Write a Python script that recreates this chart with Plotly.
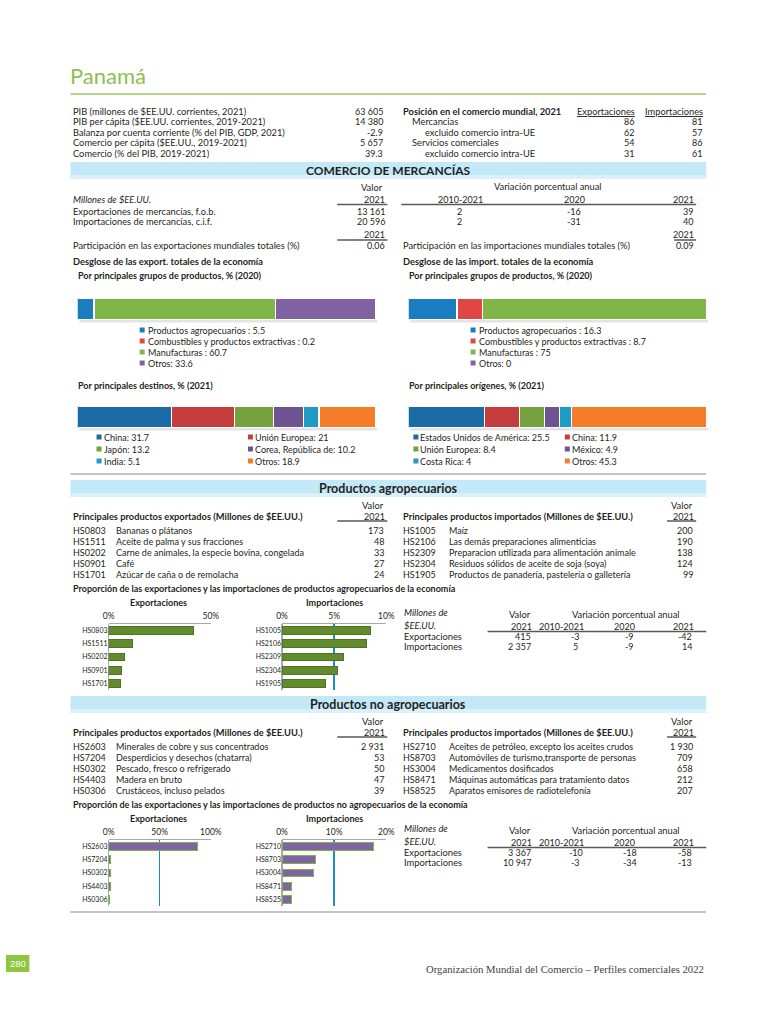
import plotly.graph_objects as go

W, H = 768, 1024
FONT = "Lato, Liberation Sans, sans-serif"
TXT = "#231F20"

# ---------------- data ----------------
country = "Panamá"
basic_labels = ["PIB (millones de $EE.UU. corrientes, 2021)",
                "PIB per cápita ($EE.UU. corrientes, 2019-2021)",
                "Balanza por cuenta corriente (% del PIB, GDP, 2021)",
                "Comercio per cápita ($EE.UU., 2019-2021)",
                "Comercio (% del PIB, 2019-2021)"]
basic_values = ["63 605", "14 380", "-2.9", "5 657", "39.3"]
rank_labels = ["Mercancias", "excluido comercio intra-UE", "Servicios comerciales", "excluido comercio intra-UE"]
rank_indent = [0, 1, 0, 1]
rank_exports = [86, 62, 54, 31]
rank_imports = [81, 57, 86, 61]

merch_rows = ["Exportaciones de mercancías, f.o.b.", "Importaciones de mercancías, c.i.f."]
merch_value = ["13 161", "20 596"]
merch_g_2010_2021 = [2, 2]
merch_g_2020 = [-16, -31]
merch_g_2021 = [39, 40]
world_share_exp = "0.06"
world_share_imp = "0.09"

group_labels = ["Productos agropecuarios", "Combustibles y productos extractivas", "Manufacturas", "Otros"]
group_seps = [" : ", " : ", " : ", ": "]
exp_group_vals = [5.5, 0.2, 60.7, 33.6]
imp_group_vals = [16.3, 8.7, 75, 0]
group_colors = ["#1A7DC0", "#E04646", "#7FB646", "#8062A3"]

dest_labels = ["China", "Unión Europea", "Japón", "Corea, República de", "India", "Otros"]
dest_vals = [31.7, 21, 13.2, 10.2, 5.1, 18.9]
orig_labels = ["Estados Unidos de América", "China", "Unión Europea", "México", "Costa Rica", "Otros"]
orig_vals = [25.5, 11.9, 8.4, 4.9, 4, 45.3]
partner_colors = ["#1B6CA6", "#C53C3C", "#77A03E", "#6E5491", "#1D9BC2", "#F57D2A"]

agri_exp_codes = ["HS0803", "HS1511", "HS0202", "HS0901", "HS1701"]
agri_exp_desc = ["Bananas o plátanos", "Aceite de palma y sus fracciones",
                 "Carne de animales, la especie bovina, congelada", "Café",
                 "Azúcar de caña o de remolacha"]
agri_exp_vals = ["173", "48", "33", "27", "24"]
agri_exp_share = [41.7, 11.6, 8.0, 6.5, 5.8]
agri_imp_codes = ["HS1005", "HS2106", "HS2309", "HS2304", "HS1905"]
agri_imp_desc = ["Maíz", "Las demás preparaciones alimenticias",
                 "Preparacion utilizada para alimentación animale",
                 "Residuos sólidos de aceite de soja (soya)",
                 "Productos de panadería, pastelería o galletería"]
agri_imp_vals = ["200", "190", "138", "124", "99"]
agri_imp_share = [8.5, 8.1, 5.9, 5.3, 4.2]
agri_summary_exp = ["415", "-3", "-9", "-42"]
agri_summary_imp = ["2 357", "5", "-9", "14"]

nagri_exp_codes = ["HS2603", "HS7204", "HS0302", "HS4403", "HS0306"]
nagri_exp_desc = ["Minerales de cobre y sus concentrados", "Desperdicios y desechos (chatarra)",
                  "Pescado, fresco o refrigerado", "Madera en bruto", "Crustáceos, incluso pelados"]
nagri_exp_vals = ["2 931", "53", "50", "47", "39"]
nagri_exp_share = [87.1, 1.6, 1.5, 1.4, 1.2]
nagri_imp_codes = ["HS2710", "HS8703", "HS3004", "HS8471", "HS8525"]
nagri_imp_desc = ["Aceites de petróleo, excepto los aceites crudos",
                  "Automóviles de turismo,transporte de personas",
                  "Medicamentos dosificados",
                  "Máquinas automáticas para tratamiento datos",
                  "Aparatos emisores de radiotelefonía"]
nagri_imp_vals = ["1 930", "709", "658", "212", "207"]
nagri_imp_share = [17.6, 6.5, 6.0, 1.9, 1.9]
nagri_summary_exp = ["3 367", "-10", "-18", "-58"]
nagri_summary_imp = ["10 947", "-3", "-34", "-13"]

# ---------------- helpers (page pixel -> paper fraction) ----------------
anns, shapes = [], []
L, R = 72, 706      # page content edges
SX, OX = 1.0254, -7.9   # horizontal calibration of page position


def X(x):
    return max(0.0, (SX * x + OX) / W)


def Y(y):
    return 1 - y / H


def t(x, y, s, size=9.3, anchor="left", bold=False, italic=False, color=TXT, family=FONT):
    if bold:
        s = f"<b>{s}</b>"
    if italic:
        s = f"<i>{s}</i>"
    anns.append(dict(x=X(x), y=Y(y), xref="paper", yref="paper", text=s, showarrow=False,
                     xanchor=anchor, yanchor="middle", borderpad=0,
                     font=dict(size=size, color=color, family=family)))


def hline(x0, x1, y, color="#595959", width=1.5):
    shapes.append(dict(type="line", xref="paper", yref="paper", x0=X(x0), x1=X(x1),
                       y0=Y(y), y1=Y(y), line=dict(color=color, width=width)))


def rect(x0, y0, x1, y1, fill, layer="below"):
    shapes.append(dict(type="rect", xref="paper", yref="paper", x0=X(x0), x1=X(x1),
                       y0=Y(y1), y1=Y(y0), fillcolor=fill, line=dict(width=0), layer=layer))


def band(y0, y1, label, size=12.5):
    rect(L, y0, R, y1, "#C3E8F8")
    rect(L, y1 - 4, R, y1, "#D9F1FB")
    t((L + R) / 2, (y0 + y1) / 2, label, size=size, anchor="center", bold=True)


fig = go.Figure()
axis_n = [0]
layout_axes = {}


def new_axes(x0, x1, y0, y1):
    axis_n[0] += 1
    n = axis_n[0]
    xa = "xaxis" if n == 1 else f"xaxis{n}"
    ya = "yaxis" if n == 1 else f"yaxis{n}"
    xr = "x" if n == 1 else f"x{n}"
    yr = "y" if n == 1 else f"y{n}"
    layout_axes[xa] = dict(domain=[X(x0), X(x1)], anchor=yr)
    layout_axes[ya] = dict(domain=[Y(y1), Y(y0)], anchor=xr)
    return xa, ya, xr, yr


# ---------------- header ----------------
t(71, 75, country, size=22, color="#8DC052")
hline(L, R, 94, color="#9BCB5C", width=1.5)

rows_y = [111, 121.5, 132, 142.5, 153]
for i, (lab, val) in enumerate(zip(basic_labels, basic_values)):
    t(74, rows_y[i], lab)
    t(385, rows_y[i], val, anchor="right", size=9)
t(403, rows_y[0], "Posición en el comercio mundial, 2021", bold=True)
t(636, rows_y[0], "<u>Exportaciones</u>", anchor="right")
t(704, rows_y[0], "<u>Importaciones</u>", anchor="right")
for i, lab in enumerate(rank_labels):
    y = rows_y[i + 1]
    t(412 + 13 * rank_indent[i], y, lab)
    t(635, y, str(rank_exports[i]), anchor="right", size=9)
    t(703, y, str(rank_imports[i]), anchor="right", size=9)

# ---------------- comercio de mercancías ----------------
band(162, 179, "COMERCIO DE MERCANCÍAS", size=12)
t(385, 187, "Valor", anchor="right")
t(548, 186, "Variación porcentual anual", anchor="center")
t(74, 199, "Millones de $EE.UU.", italic=True)
t(387, 199, "2021", anchor="right", size=9)
t(461, 199, "2010-2021", anchor="center", size=9)
t(575, 199, "2020", anchor="center", size=9)
t(695, 199, "2021", anchor="right", size=9)
hline(338, 388, 204.5)
hline(402, 696, 204.5)
for i, lab in enumerate(merch_rows):
    y = [211, 221.5][i]
    t(74, y, lab)
    t(387, y, merch_value[i], anchor="right", size=9)
    t(460, y, str(merch_g_2010_2021[i]), anchor="center", size=9)
    t(574, y, str(merch_g_2020[i]), anchor="center", size=9)
    t(694, y, str(merch_g_2021[i]), anchor="right", size=9)
t(387, 234.5, "2021", anchor="right", size=9)
t(695, 234.5, "2021", anchor="right", size=9)
hline(338, 388, 240)
hline(674, 696, 240)
t(74, 245.5, "Participación en las exportaciones mundiales totales (%)")
t(387, 245.5, world_share_exp, anchor="right", size=9)
t(403, 245.5, "Participación en las importaciones mundiales totales (%)")
t(695, 245.5, world_share_imp, anchor="right", size=9)
t(74, 261, "Desglose de las export. totales de la economía", bold=True)
t(403, 261, "Desglose de las import. totales de la economía", bold=True)
t(79, 275, "Por principales grupos de productos, % (2020)", bold=True, size=9)
t(409, 275, "Por principales grupos de productos, % (2020)", bold=True, size=9)


def stacked(x0, x1, y0, y1, vals, colors):
    xa, ya, xr, yr = new_axes(x0, x1, y0, y1)
    total = sum(vals)
    layout_axes[xa].update(range=[0, total], visible=False, fixedrange=True)
    layout_axes[ya].update(range=[-0.5, 0.5], visible=False, fixedrange=True)
    for v, c in zip(vals, colors):
        fig.add_trace(go.Bar(x=[v], y=[0], orientation="h", xaxis=xr, yaxis=yr, width=1,
                             marker=dict(color=c, line=dict(color="white", width=1.2)),
                             showlegend=False, hoverinfo="skip"))
    rect(x0 + 2, y1, x1 + 2, y1 + 2.5, "#E3E3E3")


stacked(79, 376, 298, 320, exp_group_vals, group_colors)
stacked(409, 706, 298, 320, imp_group_vals, group_colors)


def legend_sq(x, y, color):
    rect(x, y - 2.5, x + 5, y + 2.5, color, layer="above")


for i, lab in enumerate(group_labels):
    y = 330 + 11 * i
    legend_sq(141, y, group_colors[i])
    t(148, y, f"{lab}{group_seps[i]}{exp_group_vals[i]:g}", size=9)
    legend_sq(471, y, group_colors[i])
    t(478, y, f"{lab}{group_seps[i]}{imp_group_vals[i]:g}", size=9)

t(79, 385, "Por principales destinos, % (2021)", bold=True, size=9)
t(409, 385, "Por principales orígenes, % (2021)", bold=True, size=9)
stacked(79, 376, 406, 428, dest_vals, partner_colors)
stacked(409, 706, 406, 428, orig_vals, partner_colors)
for i in range(6):
    row, col = i // 2, i % 2
    y = 437 + 12 * row
    lx = [98, 249][col]
    legend_sq(lx, y, partner_colors[i])
    t(lx + 6, y, f"{dest_labels[i]}: {dest_vals[i]:g}", size=9)
    rx = [414, 565][col]
    legend_sq(rx, y, partner_colors[i])
    t(rx + 6, y, f"{orig_labels[i]}: {orig_vals[i]:g}", size=9)

hline(L, R, 474, color="#C4C4C4", width=2)


# ---------------- product sections ----------------
def product_section(top, title, exp_codes, exp_desc, exp_vals, imp_codes, imp_desc, imp_vals,
                    prop_title, exp_share, imp_share, exp_max, exp_ticks, imp_max, imp_ticks,
                    bar_fill, bar_line, sum_exp, sum_imp):
    band(top, top + 17, title, size=12.5)
    y_val, y_hdr = top + 25.5, top + 36
    t(386, y_val, "Valor", anchor="right")
    t(387, y_hdr, "2021", anchor="right", size=9)
    t(694, y_val, "Valor", anchor="right")
    t(695, y_hdr, "2021", anchor="right", size=9)
    hline(338, 388, y_hdr + 5)
    hline(667, 696, y_hdr + 5)
    t(74, y_hdr, "Principales productos exportados (Millones de $EE.UU.)", bold=True)
    t(403, y_hdr, "Principales productos importados (Millones de $EE.UU.)", bold=True)
    for i in range(5):
        y = top + 50 + 11 * i
        t(74, y, exp_codes[i], size=9)
        t(116, y, exp_desc[i], size=9)
        t(386, y, exp_vals[i], anchor="right", size=9)
        t(403, y, imp_codes[i], size=9)
        t(449, y, imp_desc[i], size=9)
        t(694, y, imp_vals[i], anchor="right", size=9)
    t(74, top + 108, prop_title, bold=True, size=9)

    cy0 = top + 144
    cy1 = cy0 + 66
    t(160, top + 122, "Exportaciones", anchor="center", bold=True, size=9)
    t(335, top + 122, "Importaciones", anchor="center", bold=True, size=9)
    for (x0, x1, codes, share, mx, ticks) in [(110, 212, exp_codes, exp_share, exp_max, exp_ticks),
                                              (283, 387, imp_codes, imp_share, imp_max, imp_ticks)]:
        xa, ya, xr, yr = new_axes(x0, x1, cy0, cy1)
        layout_axes[xa].update(range=[0, mx], side="top", tickvals=ticks,
                               ticktext=[f"{v:g}%" for v in ticks], showgrid=True,
                               gridcolor="#1B8DCF", gridwidth=1.5, zeroline=True,
                               zerolinecolor="#A9A9A9", zerolinewidth=1.5, showline=True,
                               linecolor="#A9A9A9", linewidth=1.5, ticks="",
                               tickfont=dict(size=8.5, color=TXT, family=FONT), fixedrange=True)
        layout_axes[ya].update(type="category", categoryorder="array", categoryarray=codes,
                               autorange="reversed", showgrid=False, zeroline=False, showline=False,
                               ticks="", tickfont=dict(size=7, color=TXT, family=FONT), fixedrange=True)
        fig.add_trace(go.Bar(x=share, y=codes, orientation="h", xaxis=xr, yaxis=yr, width=0.6,
                             marker=dict(color=bar_fill, line=dict(color=bar_line, width=1)),
                             showlegend=False, hoverinfo="skip"))

    # small summary table
    t(404, top + 132, "Millones de", italic=True)
    t(404, top + 145.5, "$EE.UU.", italic=True)
    t(532, top + 134, "Valor", anchor="right")
    t(626, top + 134, "Variación porcentual anual", anchor="center")
    t(533, top + 146, "2021", anchor="right", size=9)
    t(562, top + 146, "2010-2021", anchor="center", size=9)
    t(625, top + 146, "2020", anchor="center", size=9)
    t(695, top + 146, "2021", anchor="right", size=9)
    hline(488, 706, top + 151.5)
    for j, (lab, vals) in enumerate([("Exportaciones", sum_exp), ("Importaciones", sum_imp)]):
        y = top + 156 + 10.5 * j
        t(404, y, lab)
        t(532, y, vals[0], anchor="right", size=9)
        t(576, y, vals[1], anchor="center", size=9)
        t(630, y, vals[2], anchor="center", size=9)
        t(693, y, vals[3], anchor="right", size=9)


product_section(480, "Productos agropecuarios", agri_exp_codes, agri_exp_desc, agri_exp_vals,
                agri_imp_codes, agri_imp_desc, agri_imp_vals,
                "Proporción de las exportaciones y las importaciones de productos agropecuarios de la economía",
                agri_exp_share, agri_imp_share, 50, [0, 50], 10, [0, 5, 10],
                "#628B2E", "#4F7424", agri_summary_exp, agri_summary_imp)

product_section(696, "Productos no agropecuarios", nagri_exp_codes, nagri_exp_desc, nagri_exp_vals,
                nagri_imp_codes, nagri_imp_desc, nagri_imp_vals,
                "Proporción de las exportaciones y las importaciones de productos no agropecuarios de la economía",
                nagri_exp_share, nagri_imp_share, 100, [0, 50, 100], 20, [0, 10, 20],
                "#8064A2", "#7DB544", nagri_summary_exp, nagri_summary_imp)

hline(L, R, 912, color="#C4C4C4", width=2)

# ---------------- footer ----------------
rect(0, 955, 31, 972, "#8DC63F")
t(29, 963.5, "280", anchor="right", size=9.5, color="white", family="Liberation Sans, sans-serif")
t(705, 968.5, "Organización Mundial del Comercio – Perfiles comerciales 2022", anchor="right",
  size=10.7, color="#3F3F3F", family="Liberation Serif, DejaVu Serif, serif")

fig.update_layout(width=W, height=H, autosize=False, margin=dict(l=0, r=0, t=0, b=0),
                  paper_bgcolor="white", plot_bgcolor="rgba(0,0,0,0)", barmode="stack",
                  showlegend=False, annotations=anns, shapes=shapes, bargap=0, **layout_axes)

fig.write_html("out.html", config={"displayModeBar": False, "staticPlot": True},
               post_script="document.body.style.margin='0';")
